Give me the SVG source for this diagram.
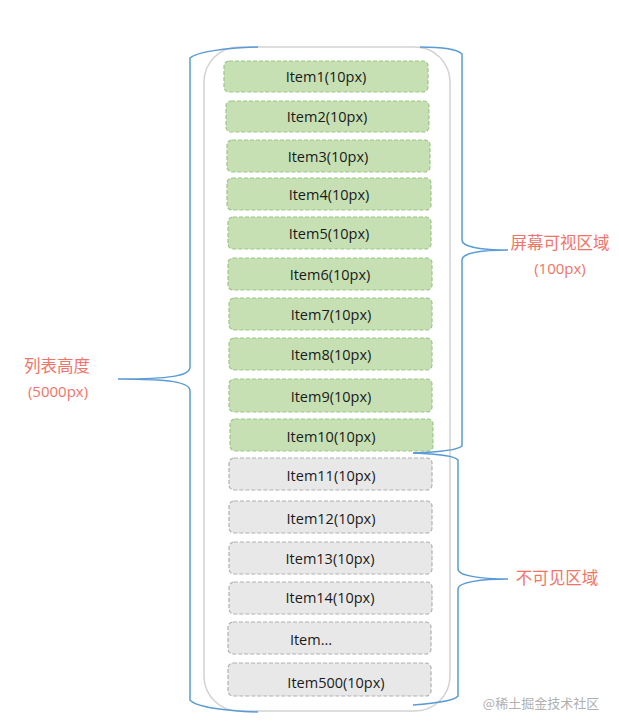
<svg xmlns="http://www.w3.org/2000/svg" width="619" height="728" viewBox="0 0 619 728">
<style>
.g{fill:#c6e0b4;stroke:#9cc584;stroke-width:1.2;stroke-dasharray:4 2}
.y{fill:#e8e8e8;stroke:#b0b0b0;stroke-width:1.2;stroke-dasharray:4 2}
.t{font-family:"Open Sans","Liberation Sans",sans-serif;font-size:14.5px;fill:#1a1a1a;text-anchor:middle;dominant-baseline:central}
.lb{font-family:"Noto Sans CJK SC","Liberation Sans",sans-serif;font-size:16.5px;fill:#f27468;text-anchor:middle;dominant-baseline:central}
.num{font-family:"Open Sans","Liberation Sans",sans-serif;font-size:15px;fill:#f27468;text-anchor:middle;dominant-baseline:central}
.br{fill:none;stroke:#5b9bd5;stroke-width:1.5}
</style>
<rect width="619" height="728" fill="#fff"/>
<rect id="container" x="204" y="47" width="246" height="664" rx="35" fill="#fff" stroke="#d2d2d2" stroke-width="1.5"/>
<g id="item1"><rect class="g" x="224" y="61" width="204" height="31" rx="5"/><text class="t" x="326" y="76.5">Item1(10px)</text></g>
<g id="item2"><rect class="g" x="226" y="101" width="203" height="31" rx="5"/><text class="t" x="327" y="116.5">Item2(10px)</text></g>
<g id="item3"><rect class="g" x="227" y="140" width="203" height="32" rx="5"/><text class="t" x="328" y="156.5">Item3(10px)</text></g>
<g id="item4"><rect class="g" x="227" y="178" width="204" height="32" rx="5"/><text class="t" x="329" y="194.5">Item4(10px)</text></g>
<g id="item5"><rect class="g" x="228" y="217" width="203" height="32" rx="5"/><text class="t" x="329" y="233.5">Item5(10px)</text></g>
<g id="item6"><rect class="g" x="228" y="258" width="204" height="32" rx="5"/><text class="t" x="330" y="274.5">Item6(10px)</text></g>
<g id="item7"><rect class="g" x="229" y="298" width="203" height="32" rx="5"/><text class="t" x="331" y="314.5">Item7(10px)</text></g>
<g id="item8"><rect class="g" x="229" y="338" width="203" height="32" rx="5"/><text class="t" x="331" y="354.5">Item8(10px)</text></g>
<g id="item9"><rect class="g" x="229" y="379" width="203" height="33" rx="5"/><text class="t" x="331" y="396">Item9(10px)</text></g>
<g id="item10"><rect class="g" x="230" y="419" width="203" height="32" rx="5"/><text class="t" x="331" y="436">Item10(10px)</text></g>
<g id="item11"><rect class="y" x="229" y="458" width="203" height="32" rx="5"/><text class="t" x="331" y="475.5">Item11(10px)</text></g>
<g id="item12"><rect class="y" x="229" y="501" width="203" height="32" rx="5"/><text class="t" x="331" y="518.5">Item12(10px)</text></g>
<g id="item13"><rect class="y" x="229" y="542" width="203" height="32" rx="5"/><text class="t" x="330" y="558.5">Item13(10px)</text></g>
<g id="item14"><rect class="y" x="229" y="582" width="203" height="32" rx="5"/><text class="t" x="330" y="597.5">Item14(10px)</text></g>
<g id="itemN"><rect class="y" x="228" y="622" width="203" height="32" rx="5"/><text class="t" x="311" y="639">Item...</text></g>
<g id="item500"><rect class="y" x="228" y="663" width="203" height="33" rx="5"/><text class="t" x="336" y="682">Item500(10px)</text></g>
<g id="connectors">
<path class="br" d="M258,47 C225,48 196,52 190,58 L190,367 C190,376 170,379 118,379 C170,379 190,382 190,391 L190,700 C196,707 225,711 258,712"/>
<path class="br" d="M420,47 C445,47 458,50 462,54 L462,240 C462,247 482,250 508,250 C482,250 462,253 462,260 L462,446 C458,450 440,452 413,453"/>
<path class="br" d="M413,453 C440,454 455,456 458,460 L458,569 C458,576 482,579 508,579 C482,579 458,582 458,589 L458,696 C455,700 440,703 413,705"/>
</g>
<g id="label-list"><text class="lb" x="57" y="365">列表高度</text><text class="num" x="58" y="391">(5000px)</text></g>
<g id="label-visible"><text class="lb" x="560" y="242">屏幕可视区域</text><text class="num" x="560" y="268">(100px)</text></g>
<g id="label-hidden"><text class="lb" x="557" y="577">不可见区域</text></g>
<text x="541" y="702" font-family="Noto Sans CJK SC,Liberation Sans,sans-serif" font-size="13" fill="#b0b0b0" text-anchor="middle" dominant-baseline="central">@稀土掘金技术社区</text>
</svg>
